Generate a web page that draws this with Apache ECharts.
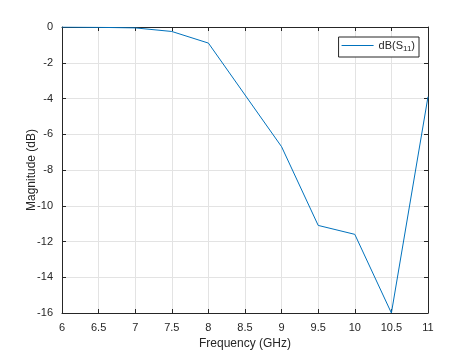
<!DOCTYPE html>
<html>
<head>
<meta charset="utf-8">
<script src="https://cdn.jsdelivr.net/npm/echarts@6/dist/echarts.min.js"></script>
<style>
  html, body { margin: 0; padding: 0; background: #fff; }
  #chart { width: 474px; height: 355px; }
</style>
</head>
<body>
<div id="chart"></div>
<script>
// data
const freqs = [6, 6.5, 7, 7.5, 8, 9, 9.5, 10, 10.5, 11];
const s11 = [0, -0.02, -0.05, -0.25, -0.9, -6.7, -11.1, -11.6, -16, -3.9];

const axisColor = '#262626';
const gridColor = '#e3e3e3';
const font = 'Helvetica, Arial, "Liberation Sans", sans-serif';

const chart = echarts.init(document.getElementById('chart'), null, { renderer: 'canvas' });

const tickStyle = { inside: true, length: 4, lineStyle: { color: axisColor } };

chart.setOption({
  animation: false,
  grid: { left: 62, right: 46, top: 27, bottom: 39, containLabel: false },
  legend: {
    right: 55, top: 37,
    data: ['s11'],
    icon: 'rect',
    formatter: () => '{a|dB(S}{b|11}{a|)}',
    itemWidth: 32, itemHeight: 1, itemGap: 4,
    padding: [3, 4, 4, 3],
    borderColor: axisColor, borderWidth: 1,
    backgroundColor: '#fff',
    textStyle: {
      color: axisColor,
      rich: {
        a: { fontSize: 11, fontFamily: font, color: axisColor },
        b: { fontSize: 8, fontFamily: font, color: axisColor, padding: [7, 0, 0, 0] }
      }
    }
  },
  xAxis: [{
    type: 'value', min: 6, max: 11, interval: 0.5,
    name: 'Frequency (GHz)', nameLocation: 'middle', nameGap: 25,
    nameMoveOverlap: false,
    nameTextStyle: { color: axisColor, fontSize: 12, fontFamily: font, verticalAlign: 'top' },
    axisLine: { onZero: false, lineStyle: { color: axisColor } },
    axisTick: tickStyle,
    axisLabel: { color: axisColor, fontSize: 11, fontFamily: font, margin: 9 },
    splitLine: { show: true, lineStyle: { color: gridColor } }
  }, {
    type: 'value', min: 6, max: 11, interval: 0.5, position: 'top',
    axisLine: { onZero: false, lineStyle: { color: axisColor } },
    axisTick: tickStyle, axisLabel: { show: false }, splitLine: { show: false }
  }],
  yAxis: [{
    type: 'value', min: -16, max: 0, interval: 2,
    name: 'Magnitude (dB)', nameLocation: 'middle', nameGap: 24,
    nameMoveOverlap: false,
    nameTextStyle: { color: axisColor, fontSize: 12, fontFamily: font },
    axisLine: { show: true, onZero: false, lineStyle: { color: axisColor } },
    axisTick: tickStyle,
    axisLabel: { color: axisColor, fontSize: 11, fontFamily: font, margin: 9 },
    splitLine: { show: true, lineStyle: { color: gridColor } }
  }, {
    type: 'value', min: -16, max: 0, interval: 2, position: 'right',
    axisLine: { show: true, onZero: false, lineStyle: { color: axisColor } },
    axisTick: tickStyle, axisLabel: { show: false }, splitLine: { show: false }
  }],
  series: [{
    name: 's11', type: 'line',
    data: freqs.map((f, i) => [f, s11[i]]),
    symbol: 'none', showSymbol: false,
    lineStyle: { color: '#0072BD', width: 1 },
    itemStyle: { color: '#0072BD' }
  }]
});
</script>
</body>
</html>
